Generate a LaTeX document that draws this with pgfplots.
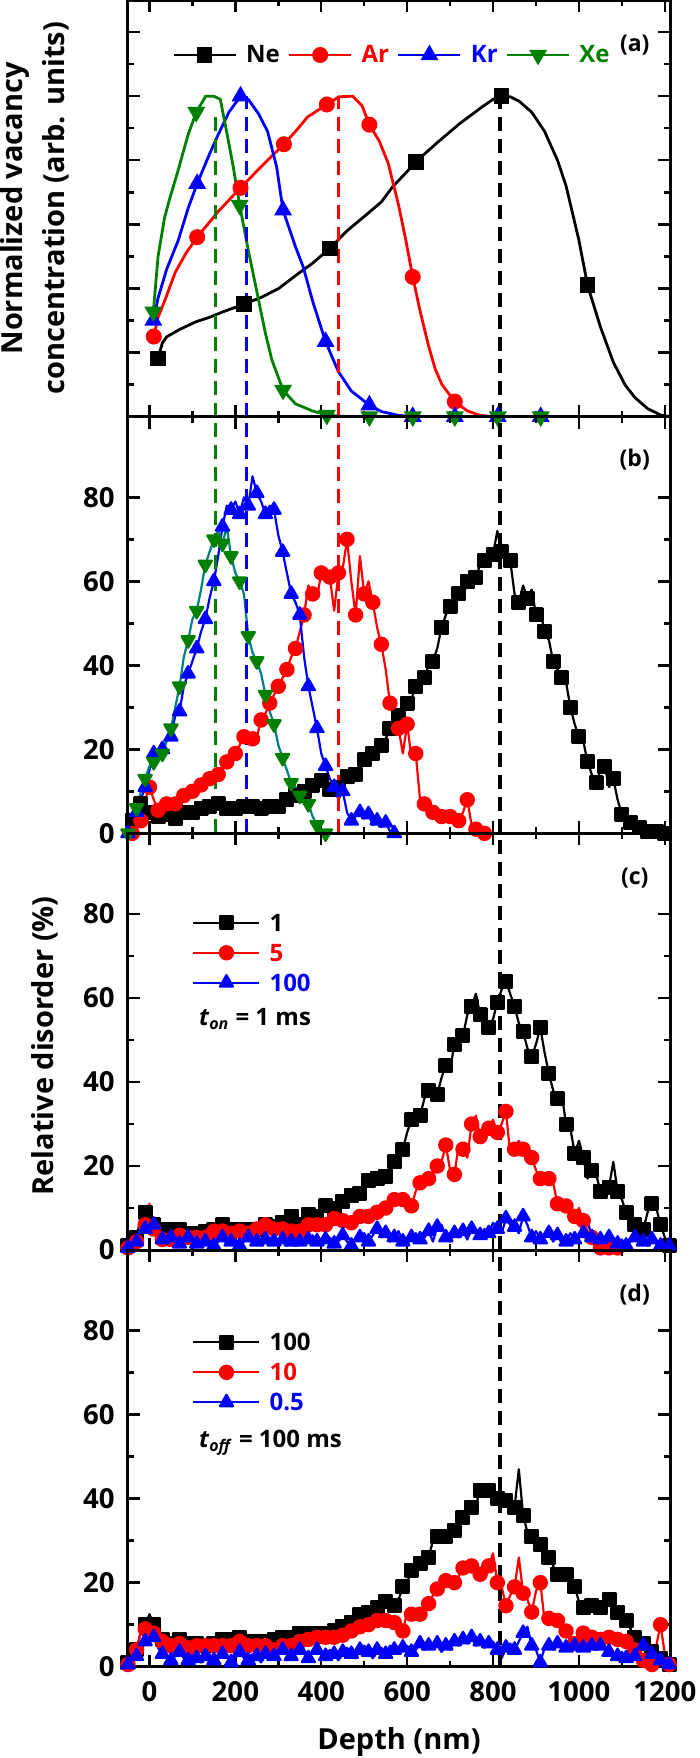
\documentclass[border=0pt]{standalone}
\usepackage{fontspec}
\setmainfont{Open Sans}
\usepackage{pgfplots}
\pgfplotsset{compat=1.18}
\definecolor{xegreen}{RGB}{0,128,0}
\definecolor{xeteal}{RGB}{0,128,128}
\tikzset{vdash/.style={line width=1.6pt, dash pattern=on 7pt off 4pt}}
\pgfplotsset{
  panel/.style={
    scale only axis, width=271pt, height=208.33pt,
    xmin=-50, xmax=1212,
    xtick={0,200,400,600,800,1000,1200}, minor x tick num=1,
    scaled ticks=false,
    /pgf/number format/1000 sep={},
    /pgf/number format/assume math mode=true,
    tick align=inside, major tick length=6pt, minor tick length=3pt,
    tick style={line width=1.2pt, black},
    axis line style={line width=1.5pt},
    tick label style={font=\bfseries\fontsize{13.8}{16}\selectfont},
    xticklabel style={anchor=base, yshift=-17.5pt, inner sep=0pt},
    yticklabel style={anchor=east, xshift=-6.5pt, inner sep=0pt},
  },
  dl/.style={line width=1.1pt, line join=round, mark repeat=2, mark options={solid}},
  sq/.style={mark=square*, mark size=3.2pt},
  ci/.style={mark=*, mark size=3.3pt},
  tu/.style={mark=triangle*, mark size=3.8pt},
  vleg/.style={
    legend cell align=left,
    legend style={anchor=north west, draw=none, fill=none, inner sep=0pt,
      font=\bfseries\fontsize{12}{14}\selectfont,
      nodes={inner sep=0pt, text height=8.6pt, text depth=0pt}, row sep=6.4pt,
      /tikz/every odd column/.append style={column sep=4.5pt}},
    legend image code/.code={\draw[##1, mark repeat=2, mark phase=2] plot coordinates {(0pt,0pt)(16.5pt,0pt)(33pt,0pt)};},
  },
}
\begin{document}
\begin{tikzpicture}
\path[use as bounding box] (0,0) rectangle (350pt,-879pt);

% ---------------- (a) ----------------
\begin{axis}[panel, at={(64pt,0pt)}, anchor=north west,
  ymin=0, ymax=1.3, ytick={0,0.2,0.4,0.6,0.8,1.0,1.2}, yticklabels={}, xticklabels={},
  minor y tick num=1,
  ylabel={Normalized vacancy\\concentration (arb. units)},
  ylabel style={at={(axis description cs:-0.1716,0.5)}, anchor=center, align=center, font=\bfseries\fontsize{14.5}{21}\selectfont},
  legend columns=4,
  legend style={at={(axis description cs:0.081,0.868)}, anchor=west, draw=none, fill=none, inner sep=0pt,
    font=\bfseries\fontsize{12}{14}\selectfont, nodes={inner sep=0pt},
    /tikz/every odd column/.append style={column sep=4.5pt},
    /tikz/every even column/.append style={column sep=4pt}},
  legend image code/.code={\draw[#1, mark indices={2}] plot coordinates {(0pt,0pt)(15.5pt,0pt)(31pt,0pt)};},
]
\addplot[black, line width=1.4pt, sq, mark options={solid}, mark indices={1,8,13,19,24,32}] coordinates {
(20,0.182)(30,0.23)(40,0.249)(70,0.272)(108,0.296)(140,0.31)(171,0.327)(220,0.351)
(260,0.372)(301,0.40)(340,0.44)(379,0.478)(420,0.525)
(460,0.58)(504,0.629)(540,0.67)(566,0.717)(600,0.765)(620,0.795)
(670,0.855)(722,0.914)(774,0.966)(800,0.99)(820,1.0)
(840,0.998)(860,0.985)(890,0.95)(920,0.89)(950,0.80)(970,0.72)(1000,0.55)(1020,0.41)
(1050,0.28)(1080,0.17)(1107,0.10)(1130,0.06)(1160,0.025)(1190,0.005)(1212,0)};
\addlegendentry{Ne}
\addplot[red, line width=1.4pt, ci, mark options={solid}, mark indices={1,6,8,10,13,17,22,27}] coordinates {
(10,0.25)(20,0.31)(35,0.36)(60,0.45)(85,0.51)(111,0.56)(160,0.64)(212,0.714)(260,0.78)(313,0.85)
(340,0.89)(368,0.935)(413,0.974)(441,0.998)(473,1.0)(495,0.97)(512,0.911)(535,0.86)(556,0.79)
(580,0.66)(597,0.55)(613,0.436)(630,0.33)(650,0.22)(665,0.15)(681,0.10)(711,0.047)(740,0.018)
(770,0.004)(800,0)};
\addlegendentry{\textcolor{red}{Ar}}
\addplot[blue, line width=1.4pt, tu, mark options={solid}, mark indices={1,6,10,15,19,22,25,26,27,28}] coordinates {
(9,0.30)(20,0.37)(40,0.46)(67,0.55)(90,0.65)(111,0.727)(140,0.82)(160,0.88)(185,0.95)(212,1.0)
(230,0.99)(254,0.945)(275,0.89)(296,0.78)(311,0.644)(340,0.53)(358,0.467)(380,0.36)(410,0.234)
(440,0.14)(470,0.08)(512,0.036)(540,0.016)(580,0.004)(613,0)(711,0)(811,0)(911,0)};
\addlegendentry{\textcolor{blue}{Kr}}
\addplot[xegreen, line width=1.4pt, tu, mark options={solid, rotate=180}, mark indices={1,7,13,18,21,23,24,25,26,27}] coordinates {
(9,0.327)(20,0.50)(35,0.62)(46,0.675)(67,0.77)(90,0.88)(109,0.95)(131,1.0)(150,1.0)(165,0.99)
(181,0.88)(195,0.78)(210,0.66)(230,0.52)(254,0.364)(270,0.26)(285,0.177)(311,0.083)(340,0.04)
(379,0.018)(413,0.005)(450,0.001)(512,0)(613,0)(711,0)(811,0)(911,0)(1003,0)};
\addlegendentry{\textcolor{xegreen}{Xe}}
\addplot[black, vdash, forget plot] coordinates {(816,0)(816,1.0)};
\addplot[red, vdash, forget plot] coordinates {(441,0)(441,1.0)};
\addplot[blue, vdash, forget plot] coordinates {(226,0)(226,1.0)};
\addplot[xegreen, vdash, forget plot] coordinates {(153,0)(153,0.95)};
\node[font=\bfseries\fontsize{11.5}{13}\selectfont] at (axis description cs:0.935,0.892) {(a)};
\end{axis}

% ---------------- (b) ----------------
\begin{axis}[panel, at={(64pt,-208.33pt)}, anchor=north west,
  ymin=0, ymax=99.2, ytick={0,20,40,60,80}, minor y tick num=1, xticklabels={}]
\addplot[black, dl, sq] coordinates {
(-40,3)(-30,5)(-20,7)(-10,6.5)(0,5)(10,4.5)(20,4)(30,3.5)(40,4.5)(50,4)(60,3.5)(70,4.5)(80,5)(90,4.5)
(100,5)(110,5.5)(120,6)(130,5.5)(140,6.5)(150,6)(160,7)(170,6.5)(180,6)(190,7)(200,6)(210,5.5)
(220,6.5)(230,6)(240,6.5)(250,5.5)(260,6)(270,5.5)(280,6.5)(290,7)(300,6.5)(310,7.5)(320,8)(330,7)
(340,9)(350,11)(360,10)(370,12)(380,11.5)(390,13)(400,12.5)(410,11)(420,10.5)(430,10)(440,11)
(450,12)(460,13.5)(470,15)(480,14)(490,16)(500,17.5)(510,17)(520,19)(530,20)(540,21)(550,22.5)
(560,25)(570,26)(580,28)(590,27.5)(600,31)(610,32)(620,35)(630,38)(640,37)(650,40)(660,41)(670,44)
(680,49)(690,52)(700,54)(710,53)(720,57)(730,56)(740,60)(750,62)(760,61)(770,64)(780,65)(790,66)
(800,66.5)(810,72)(820,67)(830,66)(840,65)(850,57)(860,55)(870,59)(880,56)(890,58)(900,52)(910,53)
(920,48)(930,46)(940,41)(950,39)(960,37)(970,36)(980,30)(990,26)(1000,23)(1010,22)(1020,17)
(1030,14)(1040,12)(1050,15)(1060,16)(1070,11)(1080,13)(1090,8)(1100,4.5)(1110,5)(1120,2.5)
(1130,3)(1140,1.5)(1150,2)(1160,0.5)(1170,1)(1180,0.5)(1190,0)(1200,0)};
\addplot[red, dl, ci] coordinates {
(-40,0)(-30,1)(-20,3)(-10,8)(0,11)(10,8)(20,5.5)(30,6)(40,7)(50,7.5)(60,7)(70,8.5)(80,9)(90,8.5)
(100,10)(110,11)(120,11.5)(130,11)(140,13)(150,14.5)(160,14)(170,16)(180,17)(190,17.5)(200,19)
(210,21)(220,23)(230,21.5)(240,22.5)(250,23)(260,27)(270,28.5)(280,31)(290,33)(300,35)(310,37)
(320,39)(330,42)(340,44)(350,48)(360,52)(370,59)(380,57)(390,56)(400,62)(410,60)(420,61)(430,53)
(440,62)(450,63)(460,70)(470,60)(480,52)(490,66)(500,57)(510,60)(520,55)(530,49)(540,45)(550,39)
(560,31)(570,28)(580,25)(590,19)(600,26)(610,18)(620,19)(630,8)(640,7)(650,6)(660,5)(670,6)
(680,4)(690,3)(700,4)(710,2)(720,3)(730,5)(740,8)(750,2)(760,1)(770,0.5)(780,0)};
\addplot[blue, dl, tu] coordinates {
(-50,0)(-40,2)(-30,5)(-20,8)(-10,11)(0,15)(10,19)(20,18)(30,20)(40,22)(50,23)(60,28)(70,29)(80,35)
(90,38)(100,41)(110,44)(120,48)(130,51)(140,56)(150,60)(160,66)(170,73)(180,78)(190,77)(200,79)
(210,76)(220,80)(230,78)(240,85)(250,81)(260,79)(270,76)(280,78)(290,77)(300,71)(310,67)(320,62)
(330,57)(340,55)(350,52)(360,42)(370,35)(380,30)(390,25)(400,19)(410,16)(420,13)(430,11)(440,8)
(450,10)(460,5)(470,3)(480,4)(490,5)(500,3.5)(510,4.5)(520,2)(530,3)(540,1.5)(550,2.5)(560,0.5)(570,0)};
\addplot[xeteal, dl, tu, mark options={solid, rotate=180, draw=xegreen, fill=xegreen}] coordinates {
(-50,0)(-40,2.5)(-30,6)(-20,10)(-10,13)(0,16)(10,17)(20,18)(30,19)(40,22)(50,25)(60,30)(70,35)
(80,42)(90,46)(100,51)(110,53)(120,58)(130,64)(140,67)(150,70)(160,72)(170,69)(180,73)(190,66)
(200,62)(210,60)(220,57)(230,47)(240,43)(250,41)(260,38)(270,33)(280,29)(290,26)(300,21)(310,18)
(320,15)(330,12)(340,11)(350,9)(360,8)(370,7)(380,4)(390,2)(400,0.5)(410,0)};
\addplot[black, vdash] coordinates {(816,0)(816,99.2)};
\addplot[red, vdash] coordinates {(441,0)(441,99.2)};
\addplot[blue, vdash] coordinates {(226,0)(226,99.2)};
\addplot[xegreen, vdash] coordinates {(153,0)(153,99.2)};
\node[font=\bfseries\fontsize{11.5}{13}\selectfont] at (axis description cs:0.935,0.897) {(b)};
\end{axis}

% ---------------- (c) ----------------
\begin{axis}[panel, vleg, at={(64pt,-416.67pt)}, anchor=north west,
  ymin=0, ymax=99.2, ytick={0,20,40,60,80}, minor y tick num=1, xticklabels={},
  ylabel={Relative disorder (\%)},
  ylabel style={at={(axis description cs:-0.153,0.49)}, anchor=center, font=\bfseries\fontsize{14.5}{17}\selectfont},
  legend style={at={(axis description cs:0.118,0.807)}},
]
\addplot[black, dl, sq] coordinates {
(-50,1)(-40,1.5)(-30,3)(-20,8)(-10,9)(0,8)(10,6)(20,5.5)(30,5)(40,4.5)(50,5)(60,4)(70,5)(80,4.5)
(90,4)(100,4.5)(110,4)(120,5)(130,4.5)(140,5.5)(150,5)(160,6)(170,6)(180,5.5)(190,5)(200,5.5)
(210,5)(220,4.5)(230,5)(240,4.5)(250,5)(260,5.5)(270,6)(280,6.5)(290,5.5)(300,7)(310,6.5)(320,7.5)
(330,8)(340,7)(350,6)(360,7.5)(370,8.5)(380,9)(390,8)(400,10)(410,10.5)(420,11)(430,10)(440,12)
(450,11.5)(460,12.5)(470,13)(480,14)(490,13.5)(500,14.5)(510,16.5)(520,15)(530,17)(540,16.5)
(550,17.5)(560,18)(570,21)(580,22)(590,24)(600,28)(610,31)(620,30)(630,32)(640,36)(650,38)(660,39)
(670,37)(680,41)(690,44)(700,43)(710,49)(720,48)(730,51)(740,56)(750,58)(760,61)(770,56)(780,54)
(790,53)(800,55)(810,59)(820,62)(830,64)(840,61)(850,58)(860,54)(870,52)(880,48)(890,46)(900,49)
(910,53)(920,47)(930,42)(940,38)(950,36)(960,37)(970,30)(980,29)(990,23)(1000,26)(1010,22)
(1020,17)(1030,19)(1040,18)(1050,14)(1060,16)(1070,15)(1080,21)(1090,14)(1100,12)(1110,9)
(1120,8)(1130,6)(1140,7)(1150,5)(1160,9)(1170,11)(1180,10)(1190,6)(1200,3)(1210,1)};
\addlegendentry{1}
\addplot[red, dl, ci] coordinates {
(-50,0.5)(-40,1.5)(-30,2)(-20,2.5)(-10,6)(0,11)(10,5)(20,2)(30,2.5)(40,3)(50,2.5)(60,3)(70,3.5)
(80,2.5)(90,3)(100,3.5)(110,3)(120,3.5)(130,3)(140,4)(150,4.5)(160,4)(170,4.5)(180,5)(190,4)
(200,5)(210,4.5)(220,5)(230,4)(240,5.5)(250,5)(260,5.5)(270,6)(280,5.5)(290,5)(300,4.5)(310,5)
(320,4)(330,4.5)(340,5)(350,4.5)(360,5.5)(370,6)(380,5.5)(390,6)(400,6.5)(410,6)(420,7)(430,7.5)
(440,8)(450,7)(460,7.5)(470,6.5)(480,7)(490,8)(500,7.5)(510,8)(520,8.5)(530,9)(540,9.5)(550,10)
(560,11)(570,12)(580,12.5)(590,12)(600,11)(610,10.5)(620,14)(630,16)(640,15)(650,17)(660,18)
(670,20)(680,21)(690,25)(700,19)(710,18)(720,25)(730,24)(740,22)(750,30)(760,32)(770,27)(780,28)
(790,29)(800,31)(810,28)(820,30)(830,33)(840,23)(850,24)(860,26)(870,24)(880,23)(890,22)(900,19)
(910,17)(920,18)(930,17)(940,16)(950,11)(960,10)(970,10.5)(980,9)(990,8)(1000,10)(1010,7)
(1020,4.5)(1030,3)(1040,1.5)(1050,0.5)(1060,0)(1070,0.5)(1080,0)(1090,0.5)(1100,0)};
\addlegendentry{\textcolor{red}{5}}
\addplot[blue, dl, tu] coordinates {
(-50,0.5)(-40,1)(-30,2)(-20,3)(-10,5)(0,10)(10,6)(20,3)(30,2.5)(40,2)(50,3)(60,2)(70,1.5)(80,2.5)
(90,3)(100,2)(110,1.5)(120,3)(130,2)(140,2.5)(150,1)(160,2)(170,3)(180,1.5)(190,2)(200,2.5)
(210,1)(220,2)(230,3)(240,1.5)(250,2)(260,1)(270,2.5)(280,3)(290,2)(300,1.5)(310,2.5)(320,1)
(330,2)(340,3)(350,2)(360,1.5)(370,2.5)(380,3.5)(390,2)(400,1.5)(410,2.5)(420,3)(430,1.5)(440,2)
(450,3.5)(460,2)(470,1)(480,2.5)(490,3)(500,4)(510,2)(520,3.5)(530,5)(540,3)(550,4)(560,2)(570,3)
(580,4.5)(590,2)(600,1.5)(610,3)(620,4)(630,2.5)(640,3)(650,4.5)(660,2)(670,5.5)(680,6)(690,3)
(700,2)(710,4)(720,3)(730,4.5)(740,2.5)(750,5)(760,4)(770,3.5)(780,5)(790,4)(800,6.5)(810,5)
(820,4)(830,7.5)(840,6)(850,5.5)(860,4)(870,8)(880,6)(890,3)(900,4.5)(910,2.5)(920,3)(930,4)
(940,2)(950,3.5)(960,1.5)(970,2)(980,4)(990,2.5)(1000,3)(1010,4)(1020,7)(1030,3)(1040,2)(1050,2.5)
(1060,1.5)(1070,3)(1080,2)(1090,1.5)(1100,2.5)(1110,1)(1120,2)(1130,3)(1140,1.5)(1150,2)(1160,1)
(1170,2.5)(1180,1.5)(1190,1)(1200,2)(1210,1)};
\addlegendentry{\textcolor{blue}{100}}
\addplot[black, vdash, forget plot] coordinates {(816,0)(816,99.2)};
\node[anchor=base west, font=\bfseries\fontsize{12}{14}\selectfont] at (axis description cs:0.118,0.539) {\textit{t}\textsubscript{\textit{on}} = 1 ms};
\node[font=\bfseries\fontsize{11.5}{13}\selectfont] at (axis description cs:0.935,0.892) {(c)};
\end{axis}

% ---------------- (d) ----------------
\begin{axis}[panel, vleg, at={(64pt,-625pt)}, anchor=north west,
  ymin=0, ymax=99.2, ytick={0,20,40,60,80}, minor y tick num=1,
  xlabel={Depth (nm)},
  xlabel style={at={(axis description cs:0.5,-0.199)}, anchor=base, font=\bfseries\fontsize{14.5}{17}\selectfont},
  legend style={at={(axis description cs:0.118,0.80)}},
]
\addplot[black, dl, sq] coordinates {
(-50,1)(-40,1)(-30,4)(-20,8.5)(-10,10)(0,12.5)(10,10)(20,8)(30,6.5)(40,6)(50,5.5)(60,6)(70,6.5)
(80,6)(90,5.5)(100,5)(110,5.5)(120,5.5)(130,5)(140,6)(150,5.5)(160,6)(170,6.5)(180,6)(190,6.5)
(200,6.5)(210,7)(220,6.5)(230,6)(240,6.5)(250,6)(260,5.5)(270,6)(280,5.5)(290,6.5)(300,6)(310,7)
(320,7.5)(330,7)(340,7.5)(350,8)(360,7.5)(370,8)(380,8.5)(390,8)(400,8.5)(410,8)(420,9)(430,8.5)
(440,9)(450,9.5)(460,10)(470,10.5)(480,11)(490,12.5)(500,12)(510,13)(520,12.5)(530,14)(540,15)
(550,15.5)(560,15)(570,14.5)(580,16)(590,19)(600,20)(610,23)(620,24)(630,24.5)(640,25)(650,26)
(660,30)(670,31)(680,32)(690,31)(700,33)(710,32.5)(720,34)(730,35.5)(740,37)(750,38)(760,38.5)
(770,42)(780,43)(790,42)(800,41.5)(810,40)(820,41)(830,39.5)(840,39)(850,38)(860,47)(870,36)
(880,32)(890,31)(900,31.5)(910,29)(920,28)(930,26)(940,24)(950,22)(960,20.5)(970,22)(980,23.5)
(990,19)(1000,15.5)(1010,14)(1020,15)(1030,14.5)(1040,13.5)(1050,14)(1060,15)(1070,16)(1080,14)
(1090,13)(1100,12)(1110,11)(1120,9)(1130,7)(1140,6)(1150,5.5)(1160,4.5)(1170,3.5)(1180,3)(1190,2)
(1200,1)(1210,0.5)};
\addlegendentry{100}
\addplot[red, dl, ci] coordinates {
(-50,0.5)(-40,1.5)(-30,4)(-20,8.5)(-10,9)(0,10)(10,8)(20,7)(30,6)(40,5.5)(50,5)(60,5.5)(70,5.5)
(80,5)(90,4.5)(100,5)(110,5)(120,5.5)(130,5)(140,4.5)(150,5)(160,5.5)(170,5)(180,4.5)(190,5)
(200,5.5)(210,6)(220,5.5)(230,5)(240,5.5)(250,5)(260,4.5)(270,5)(280,4.5)(290,4)(300,4.5)(310,5)
(320,4.5)(330,5)(340,5.5)(350,6)(360,5.5)(370,6.5)(380,6)(390,7)(400,6.5)(410,7)(420,7.5)(430,7)
(440,8)(450,7.5)(460,8)(470,8.5)(480,9)(490,9.5)(500,9)(510,10)(520,10.5)(530,11)(540,10.5)
(550,11)(560,11.5)(570,10.5)(580,9)(590,8.5)(600,13)(610,12.5)(620,13)(630,12.5)(640,13.5)(650,15)
(660,17)(670,18.5)(680,19.5)(690,20.5)(700,21)(710,20)(720,21.5)(730,23.5)(740,23)(750,24)
(760,24.5)(770,22)(780,21.5)(790,24)(800,27)(810,20)(820,19)(830,14.5)(840,17)(850,19)(860,26)
(870,17.5)(880,16)(890,13)(900,18)(910,20)(920,11)(930,11.5)(940,12.5)(950,11)(960,9)(970,8.5)
(980,6)(990,5.5)(1000,7)(1010,8)(1020,7.5)(1030,7)(1040,7.5)(1050,6.5)(1060,8)(1070,7)(1080,6)
(1090,6.5)(1100,7)(1110,6)(1120,4.5)(1130,4)(1140,2)(1150,1.5)(1160,1)(1170,0.5)(1180,5)(1190,10)
(1200,3)(1210,0.5)};
\addlegendentry{\textcolor{red}{10}}
\addplot[blue, dl, tu] coordinates {
(-50,0.5)(-40,1)(-30,2.5)(-20,3.5)(-10,6)(0,9.5)(10,7)(20,4.5)(30,3)(40,2.5)(50,1.5)(60,2.5)(70,3.5)
(80,2)(90,1.5)(100,3)(110,2)(120,1)(130,2.5)(140,3)(150,1.5)(160,2)(170,3)(180,2.5)(190,1)(200,2)
(210,3.5)(220,2)(230,1.5)(240,3)(250,2.5)(260,1)(270,3)(280,3.5)(290,2.5)(300,3)(310,4)(320,3)
(330,2.5)(340,3.5)(350,4)(360,3)(370,2)(380,3.5)(390,4)(400,3)(410,2.5)(420,4)(430,3)(440,1.5)
(450,3.5)(460,4.5)(470,3)(480,2)(490,4)(500,5)(510,3.5)(520,2)(530,4)(540,4.5)(550,3)(560,5)
(570,4)(580,3.5)(590,4.5)(600,5)(610,3.5)(620,4)(630,5.5)(640,4)(650,5)(660,4.5)(670,5.5)(680,3.5)
(690,5)(700,4)(710,6)(720,5)(730,6.5)(740,5.5)(750,7)(760,5)(770,6)(780,4.5)(790,5.5)(800,6)
(810,4)(820,2)(830,4.5)(840,5.5)(850,4)(860,6)(870,8)(880,9.5)(890,5)(900,4)(910,1)(920,4.5)
(930,5)(940,4)(950,5.5)(960,5)(970,4.5)(980,6)(990,5)(1000,5.5)(1010,4.5)(1020,6)(1030,5)(1040,4)
(1050,5)(1060,4.5)(1070,3.5)(1080,3)(1090,2.5)(1100,3.5)(1110,2)(1120,3)(1130,2.5)(1140,4)(1150,5)
(1160,4.5)(1170,3)(1180,2)(1190,1.5)(1200,1)(1210,0.5)};
\addlegendentry{\textcolor{blue}{0.5}}
\addplot[black, vdash, forget plot] coordinates {(816,0)(816,99.2)};
\node[anchor=base west, font=\bfseries\fontsize{12}{14}\selectfont] at (axis description cs:0.118,0.527) {\textit{t}\textsubscript{\textit{off}} = 100 ms};
\node[font=\bfseries\fontsize{11.5}{13}\selectfont] at (axis description cs:0.935,0.892) {(d)};
\end{axis}
\end{tikzpicture}
\end{document}
